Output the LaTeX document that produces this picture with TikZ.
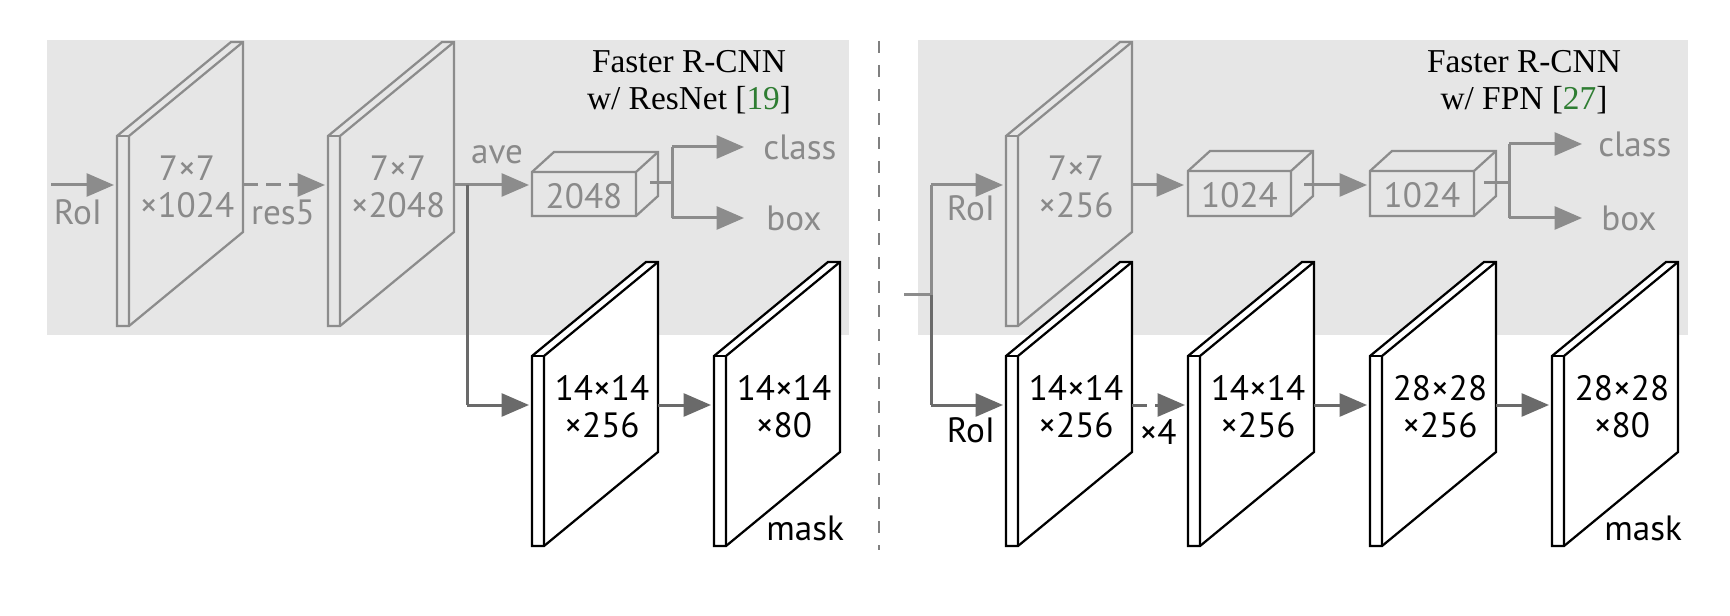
\documentclass[tikz,border=0pt]{standalone}
\usepackage{fontspec}
\setmainfont{PT Sans}
\newfontfamily\titlefont{Liberation Serif}
\usetikzlibrary{arrows.meta}
\definecolor{bg}{HTML}{E6E6E6}
\definecolor{gtxt}{HTML}{8A8A8A}
\definecolor{garr}{HTML}{8C8C8C}
\definecolor{darr}{HTML}{6A6A6A}
\definecolor{refgreen}{HTML}{2E7D32}
% plate: name, left x, top-front y, style, label
\newcommand\plate[5]{%
  \begin{scope}[#4]
    \path[#4-fill] (#2,#3) -- ++(114,-94) -- ++(12,0) -- ++(0,190) -- ++(-114,94) -- ++(-12,0) -- cycle;
    \draw (#2,#3) -- ++(114,-94) -- ++(12,0) -- ++(0,190) -- ++(-114,94) -- ++(-12,0) -- cycle;
    \draw (#2+12,#3+190) -- (#2+12,#3) -- (#2+126,#3-94);
    \draw (#2,#3) -- (#2+12,#3);
  \end{scope}
  \coordinate (#1-w) at (#2-3,#3+49);
  \coordinate (#1-e) at (#2+126,#3+49);
  \node[lbl,#4-text] (#1) at (#2+70,#3+51) {#5};
}
% box: name, x1, y1, x2, y2, label
\newcommand\cube[6]{%
  \fill[bg] (#2,#3) -- ++(22,-20) -- (#4+22,#3-20) -- (#4+22,#5-20) -- (#4,#5) -- (#2,#5) -- cycle;
  \draw[gp] (#2,#3) -- ++(22,-20) -- (#4+22,#3-20) -- (#4+22,#5-20) -- (#4,#5) -- (#2,#5) -- cycle;
  \draw[gp] (#2,#3) -- (#4,#3) -- (#4+22,#3-20) (#4,#3) -- (#4,#5);
  \node[lbl,text=gtxt] (#1) at ({(#2+#4)/2},{(#3+#5)/2+2}) {#6};
}
\tikzset{
  lbl/.style={font=\fontsize{20}{21}\selectfont,align=center,inner sep=0pt},
  gp/.style={draw=garr,line width=0.45mm},
  gp-fill/.style={fill=bg},
  gp-text/.style={text=gtxt},
  bp/.style={draw=black,line width=0.45mm},
  bp-fill/.style={fill=white},
  bp-text/.style={text=black},
  tip/.style={-{Triangle[length=5.5mm,width=4.6mm]}},
  ga/.style={draw=garr,line width=0.6mm,tip},
  da/.style={draw=darr,line width=0.6mm,tip},
  gl/.style={draw=garr,line width=0.6mm},
  dl/.style={draw=darr,line width=0.6mm},
}
\begin{document}
\begin{tikzpicture}[x=0.2mm,y=-0.2mm]
\useasboundingbox (0,0) rectangle (1730,616);
\fill[white] (0,0) rectangle (1730,616);
% backgrounds
\fill[bg] (47,40) rectangle (849,335);
\fill[bg] (918,40) rectangle (1688,335);
\draw[gray,line width=0.3mm,dash pattern=on 2.4mm off 2.4mm] (879,41) -- (879,550);

% ---- left: ResNet ----
\node[font=\titlefont\fontsize{19}{21}\selectfont,align=center] (t1) at (689,82) {Faster R-CNN\\w/ ResNet [{\color{refgreen}19}]};
\plate{p1}{117}{136}{gp}{7×7\\×1024}
\plate{p2}{328}{136}{gp}{7×7\\×2048}
\plate{p3}{532}{356}{bp}{14×14\\×256}
\plate{p4}{714}{356}{bp}{14×14\\×80}
\cube{c2048}{532}{172}{636}{216}{2048}
\coordinate (in1) at (51,185);
\draw[ga] (in1) -- (p1-w);
\node[lbl,text=gtxt] (r1) at (78,212) {RoI};
\draw[ga,dash pattern=on 3mm off 1.6mm] (p1-e) -- (p2-w);
\node[lbl,text=gtxt] (res5) at (283,212) {res5};
\draw[ga] (p2-e) -- (529,185);
\node[lbl,text=gtxt] (ave) at (497,155) {ave};
\coordinate (j1) at (467,185);
\draw[dl] (j1) -- (j1 |- p3-w);
\draw[da] (j1 |- p3-w) -- (p3-w);
\draw[da] (p3-e) -- (p4-w);
\coordinate (s1) at (672,183);
\draw[gl] (650,183) -- (s1);
\draw[gl] (672,147) -- (672,218);
\draw[ga] (672,147) -- (744,147);
\draw[ga] (672,218) -- (744,218);
\node[lbl,text=gtxt,anchor=west] (c1) at (763,147) {class};
\node[lbl,text=gtxt,anchor=west] (b1) at (766,218) {box};
\node[lbl,anchor=west] (m1) at (766,528) {mask};

% ---- right: FPN ----
\node[font=\titlefont\fontsize{19}{21}\selectfont,align=center] (t2) at (1524,82) {Faster R-CNN\\w/ FPN [{\color{refgreen}27}]};
\plate{q1}{1006}{136}{gp}{7×7\\×256}
\plate{q2}{1006}{356}{bp}{14×14\\×256}
\plate{q3}{1188}{356}{bp}{14×14\\×256}
\plate{q4}{1370}{356}{bp}{28×28\\×256}
\plate{q5}{1552}{356}{bp}{28×28\\×80}
\cube{k1}{1188}{171}{1291}{216}{1024}
\cube{k2}{1370}{171}{1474}{216}{1024}
\coordinate (in2) at (904,295);
\coordinate (j2) at (931,295);
\draw[gl] (in2) -- (j2);
\draw[gl] (931,185) -- (j2);
\draw[ga] (931,185) -- (q1-w);
\draw[dl] (j2) -- (931,405);
\draw[da] (931,405) -- (q2-w);
\node[lbl,text=gtxt] (r2) at (971,208) {RoI};
\node[lbl] (r3) at (971,430) {RoI};
\draw[ga] (q1-e) -- (1184,185);
\draw[ga] (1304,185) -- (1367,185);
\draw[da,dash pattern=on 3mm off 1.6mm] (q2-e) -- (q3-w);
\node[lbl] (x4) at (1158,432) {×4};
\draw[da] (q3-e) -- (q4-w);
\draw[da] (q4-e) -- (q5-w);
\coordinate (s2) at (1509,183);
\draw[gl] (1484,183) -- (s2);
\draw[gl] (1509,144) -- (1509,218);
\draw[ga] (1509,144) -- (1582,144);
\draw[ga] (1509,218) -- (1582,218);
\node[lbl,text=gtxt,anchor=west] (c2) at (1598,144) {class};
\node[lbl,text=gtxt,anchor=west] (b2) at (1601,218) {box};
\node[lbl,anchor=west] (m2) at (1604,528) {mask};
\end{tikzpicture}
\end{document}
